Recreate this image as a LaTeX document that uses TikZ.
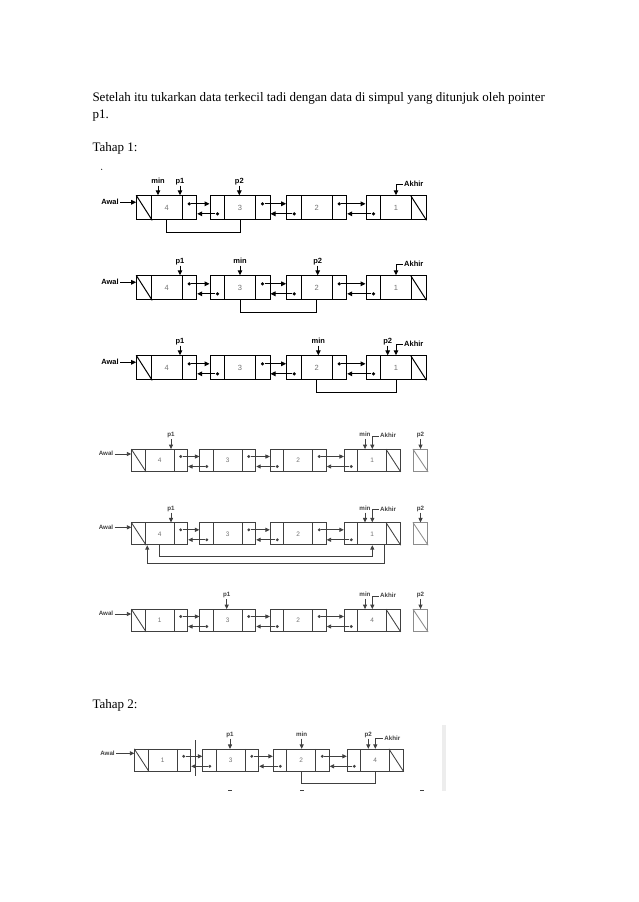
\documentclass[tikz,border=0pt]{standalone}
\usepackage{fontspec}
\setmainfont{Liberation Serif}
\setsansfont{Liberation Sans}
\usetikzlibrary{arrows.meta}

\begin{document}
\begin{tikzpicture}[x=1pt,y=-1pt,line width=1pt]
  \tikzstyle{simpul}=[matrix,draw,inner sep=0,column sep=0,ampersand replacement=\&]
  \tikzstyle{ujung}=[minimum width=15pt,minimum height=24pt,inner sep=0]
  \tikzstyle{isi}=[ujung,minimum width=30pt,font=\sffamily\fontsize{7.5}{8}\selectfont,text=black!55]
  \tikzstyle{titik}=[circle,fill,inner sep=0,minimum size=3.5pt]
  \tikzstyle{panah}=[-{Triangle[length=5pt,width=4.6pt]}]
  \tikzstyle{penunjuk}=[font=\sffamily\bfseries\fontsize{7.5}{8}\selectfont,inner sep=1pt,text height=5.3pt,text depth=1pt]
  \tikzstyle{kosong}=[draw=black!45,minimum width=14.4pt,minimum height=22pt,inner sep=0]
  \tikzstyle{teks}=[anchor=base west,inner sep=0,font=\fontsize{13}{15}\selectfont]
  \useasboundingbox (0,0) rectangle (638,902);

  \node[teks] (kalimat) at (92,101.5) {Setelah itu tukarkan data terkecil tadi dengan data di simpul yang ditunjuk oleh pointer};
  \node[teks] (sambungan) at (92,118.7) {p1.};
  \node[teks] (tahap1) at (92,151.3) {Tahap 1:};
  \node[teks] (tahap2) at (92,708.5) {Tahap 2:};
  \fill (101.7,169.3) circle (0.6);

  % tahap 1, three big lists
  \foreach \k/\y in {a/207.8,b/287.8,c/367.8} {
    \foreach \n/\x/\v in {1/166.7/4,2/240/3,3/316.7/2,4/396/1} {
      \matrix[simpul] (\k\n) at (\x,\y) {\node[ujung] (\k\n-l) {}; \& \node[isi] (\k\n-d) {\v}; \& \node[ujung] (\k\n-r) {}; \\};
      \draw (\k\n-d.north west) -- (\k\n-d.south west) (\k\n-d.north east) -- (\k\n-d.south east);
    }
    \draw (\k1-l.north west) -- (\k1-l.south east) (\k4-r.north west) -- (\k4-r.south east);
    \foreach \i/\j in {1/2,2/3,3/4} {
      \node[titik] (\k\i-f) at ([yshift=4pt]\k\i-r.center) {};
      \node[titik] (\k\j-b) at ([yshift=-6pt]\k\j-l.center) {};
      \draw[panah] (\k\i-f) -- (\k\i-f -| \k\j.west);
      \draw[panah] (\k\j-b) -- (\k\j-b -| \k\i.east);
    }
  }

  \node[penunjuk] (awalA) at (110,202.3) {Awal};
  \node[penunjuk] (minA) at (158,181) {min};
  \node[penunjuk] (p1A) at (180,181) {p1};
  \node[penunjuk] (p2A) at (239.3,181) {p2};
  \node[penunjuk] (akhirA) at (413.8,184.3) {Akhir};
  \draw[panah] (awalA) -- (awalA -| a1.west);
  \draw[panah] (minA) -- (minA |- a1.north);
  \draw[panah] (p1A) -- (p1A |- a1.north);
  \draw[panah] (p2A) -- (p2A |- a2.north);
  \draw[panah] (akhirA) -| (a4-d.north);
  \draw (a1-d.south) -- ++(0,12) -| (a2-d.south);

  \node[penunjuk] (awalB) at (110,282.3) {Awal};
  \node[penunjuk] (p1B) at (180,261) {p1};
  \node[penunjuk] (minB) at (240,261) {min};
  \node[penunjuk] (p2B) at (317.7,261) {p2};
  \node[penunjuk] (akhirB) at (413.8,264.3) {Akhir};
  \draw[panah] (awalB) -- (awalB -| b1.west);
  \draw[panah] (p1B) -- (p1B |- b1.north);
  \draw[panah] (minB) -- (minB |- b2.north);
  \draw[panah] (p2B) -- (p2B |- b3.north);
  \draw[panah] (akhirB) -| (b4-d.north);
  \draw (b2-d.south) -- ++(0,12) -| (b3-d.south);

  \node[penunjuk] (awalC) at (110,362.3) {Awal};
  \node[penunjuk] (p1C) at (180,341) {p1};
  \node[penunjuk] (minC) at (318.3,341) {min};
  \node[penunjuk] (p2C) at (387.7,341) {p2};
  \node[penunjuk] (akhirC) at (413.8,344.3) {Akhir};
  \draw[panah] (awalC) -- (awalC -| c1.west);
  \draw[panah] (p1C) -- (p1C |- c1.north);
  \draw[panah] (minC) -- (minC |- c3.north);
  \draw[panah] (p2C) -- (p2C |- c4.north);
  \draw[panah] (akhirC) -| (c4-d.north);
  \draw (c3-d.south) -- ++(0,12) -| (c4-d.south);

  % the smaller, lighter lists
  \begin{scope}[color=black!75,line width=0.85pt,
      ujung/.style={minimum width=14pt,minimum height=22pt,inner sep=0},
      isi/.style={ujung,minimum width=28pt,font=\sffamily\fontsize{6.5}{8}\selectfont,text=black!55},
      titik/.style={circle,fill,inner sep=0,minimum size=3.2pt},
      penunjuk/.style={font=\sffamily\bfseries\fontsize{6.2}{7}\selectfont,inner sep=1pt,text height=4.6pt,text depth=1pt},
      panah/.style={-{Triangle[length=4.4pt,width=4pt]}}]
    \foreach \k/\y/\va/\vb/\vc/\vd/\dx in {d/460.5/4/3/2/1/0,e/533.8/4/3/2/1/0,f/620.5/1/3/2/4/0,g/760.3/1/3/2/4/3} {
      \foreach \n/\x/\v in {1/159.7/\va,2/227.8/\vb,3/298.3/\vc,4/372.3/\vd} {
        \matrix[simpul] (\k\n) at (\x+\dx,\y) {\node[ujung] (\k\n-l) {}; \& \node[isi] (\k\n-d) {\v}; \& \node[ujung] (\k\n-r) {}; \\};
        \draw (\k\n-d.north west) -- (\k\n-d.south west) (\k\n-d.north east) -- (\k\n-d.south east);
      }
      \draw (\k1-l.north west) -- (\k1-l.south east) (\k4-r.north west) -- (\k4-r.south east);
      \foreach \i/\j in {1/2,2/3,3/4} {
        \node[titik] (\k\i-f) at ([yshift=4pt]\k\i-r.center) {};
        \node[titik] (\k\j-b) at ([yshift=-6pt]\k\j-l.center) {};
        \draw[panah] (\k\i-f) -- (\k\i-f -| \k\j.west);
        \draw[panah] (\k\j-b) -- (\k\j-b -| \k\i.east);
      }
    }
    \foreach \k/\y in {d/460.5,e/533.8,f/620.5} {
      \node[kosong] (\k-p2) at (420.5,\y) {};
      \draw[black!45] (\k-p2.north west) -- (\k-p2.south east);
    }

    \node[penunjuk] (awalD) at (106,454) {Awal};
    \node[penunjuk] (p1D) at (171,435) {p1};
    \node[penunjuk] (minD) at (365,435) {min};
    \node[penunjuk] (akhirD) at (388,436) {Akhir};
    \node[penunjuk] (p2D) at (420.5,435) {p2};
    \draw[panah] (awalD) -- (awalD -| d1.west);
    \draw[panah] (p1D) -- (p1D |- d1.north);
    \draw[panah] (minD) -- (minD |- d4.north);
    \draw[panah] (akhirD) -| (d4-d.north);
    \draw[panah] (p2D) -- (d-p2.north);

    \node[penunjuk] (awalE) at (106,527.3) {Awal};
    \node[penunjuk] (p1E) at (171,508.3) {p1};
    \node[penunjuk] (minE) at (365,508.3) {min};
    \node[penunjuk] (akhirE) at (388,509.3) {Akhir};
    \node[penunjuk] (p2E) at (420.5,508.3) {p2};
    \draw[panah] (awalE) -- (awalE -| e1.west);
    \draw[panah] (p1E) -- (p1E |- e1.north);
    \draw[panah] (minE) -- (minE |- e4.north);
    \draw[panah] (akhirE) -| (e4-d.north);
    \draw[panah] (p2E) -- (e-p2.north);
    \draw[panah] (e1-d.south) -- ++(0,11) -| (e4-d.south);
    \draw[panah] ([xshift=-2pt]e4-d.south east) -- ++(0,18.5) -| ([xshift=2pt]e1-d.south west);

    \node[penunjuk] (awalF) at (106,614) {Awal};
    \node[penunjuk] (p1F) at (226.7,595) {p1};
    \node[penunjuk] (minF) at (365,595) {min};
    \node[penunjuk] (akhirF) at (388,596) {Akhir};
    \node[penunjuk] (p2F) at (420.5,595) {p2};
    \draw[panah] (awalF) -- (awalF -| f1.west);
    \draw[panah] (p1F) -- (p1F |- f2.north);
    \draw[panah] (minF) -- (minF |- f4.north);
    \draw[panah] (akhirF) -| (f4-d.north);
    \draw[panah] (p2F) -- (f-p2.north);

    % tahap 2
    \node[penunjuk] (awalG) at (107.5,753.3) {Awal};
    \node[penunjuk] (p1G) at (230,734.3) {p1};
    \node[penunjuk] (minG) at (301.7,734.3) {min};
    \node[penunjuk] (p2G) at (368.3,734.3) {p2};
    \node[penunjuk] (akhirG) at (392.3,738.3) {Akhir};
    \draw[panah] (awalG) -- (awalG -| g1.west);
    \draw[panah] (p1G) -- (p1G |- g2.north);
    \draw[panah] (minG) -- (minG |- g3.north);
    \draw[panah] (p2G) -- (p2G |- g4.north);
    \draw[panah] (akhirG) -| (g4-d.north);
    \draw (g3-d.south) -- ++(0,11.4) -| (g4-d.south);
    \draw (195,740) -- (195,776);
    \foreach \x in {230,301.7,421.7} \fill (\x-2,789.5) rectangle (\x+2,790.7);
  \end{scope}
  \fill[black!7] (442,725) rectangle (445.5,791);
\end{tikzpicture}
\end{document}
